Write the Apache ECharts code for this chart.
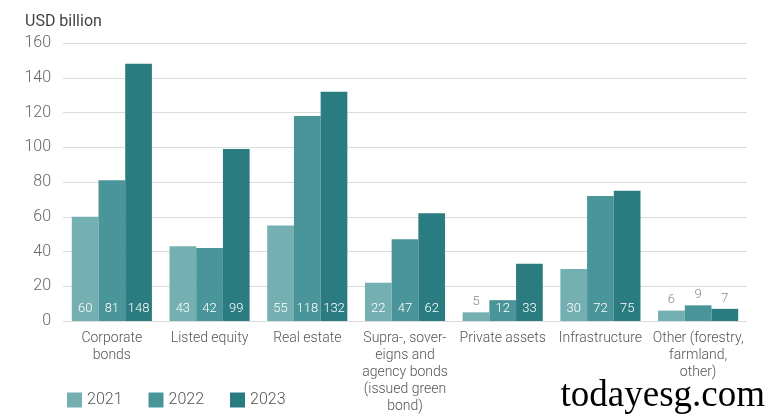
<!DOCTYPE html>
<html>
<head>
<meta charset="utf-8">
<script src="https://cdn.jsdelivr.net/npm/echarts@6/dist/echarts.min.js"></script>
<style>
  html, body { margin: 0; padding: 0; background: #fff; }
  #chart { width: 768px; height: 418px; }
</style>
</head>
<body>
<div id="chart"></div>
<script>
var categories = [
    'Corporate\nbonds',
    'Listed equity',
    'Real estate',
    'Supra-, sover-\neigns and\nagency bonds\n(issued green\nbond)',
    'Private assets',
    'Infrastructure',
    'Other (forestry,\nfarmland,\nother)'
];
var years = ['2021', '2022', '2023'];
var values2021 = [60, 43, 55, 22, 5, 30, 6];
var values2022 = [81, 42, 118, 47, 12, 72, 9];
var values2023 = [148, 99, 132, 62, 33, 75, 7];
var colors = ['#74afb1', '#4a9599', '#2b7c80'];

var FONT = 'Roboto, "Noto Sans", sans-serif';

// short bars get their number on top in grey, the rest inside at the bottom
function toItems(values) {
    return values.map(function (v) {
        if (v < 10) {
            return {
                value: v,
                label: { position: 'top', color: '#888', distance: 4 }
            };
        }
        return v;
    });
}

function makeSeries(name, values, color) {
    return {
        type: 'bar',
        name: name,
        data: toItems(values),
        barGap: 0,
        barCategoryGap: '18%',
        itemStyle: { color: color },
        label: {
            show: true,
            position: 'insideBottom',
            distance: 6,
            color: '#fff',
            fontFamily: FONT,
            fontWeight: 300,
            fontSize: 13
        }
    };
}

var chart = echarts.init(document.getElementById('chart'), null, { renderer: 'canvas' });

chart.setOption({
    animation: false,
    grid: { left: 63, right: 21, top: 43, bottom: 97, containLabel: false },
    legend: {
        left: 62,
        bottom: 5,
        itemWidth: 15,
        itemHeight: 15,
        itemGap: 26,
        icon: 'rect',
        textStyle: { fontFamily: FONT, fontWeight: 300, fontSize: 16, color: '#555' },
        data: years
    },
    graphic: [
        {
            type: 'text',
            left: 25,
            top: 14,
            style: { text: 'USD billion', fontFamily: FONT, fontSize: 16, fill: '#444' }
        },
        {
            type: 'text',
            right: 3,
            bottom: 3,
            style: {
                text: 'todayesg.com',
                fontFamily: '"Liberation Serif", "DejaVu Serif", serif',
                fontSize: 37,
                fill: '#000'
            }
        }
    ],
    xAxis: {
        type: 'category',
        data: categories,
        axisLine: { show: false },
        axisTick: { show: false },
        axisLabel: {
            interval: 0,
            margin: 9,
            fontFamily: FONT,
            fontWeight: 300,
            fontSize: 14,
            lineHeight: 17,
            color: '#555'
        }
    },
    yAxis: {
        type: 'value',
        min: 0,
        max: 160,
        interval: 20,
        axisLine: { show: false },
        axisTick: { show: false },
        axisLabel: {
            margin: 12,
            fontFamily: FONT,
            fontWeight: 300,
            fontSize: 16,
            color: '#666'
        },
        splitLine: { lineStyle: { color: '#dcdcdc', width: 1 } }
    },
    series: [
        makeSeries(years[0], values2021, colors[0]),
        makeSeries(years[1], values2022, colors[1]),
        makeSeries(years[2], values2023, colors[2])
    ]
});
</script>
</body>
</html>
